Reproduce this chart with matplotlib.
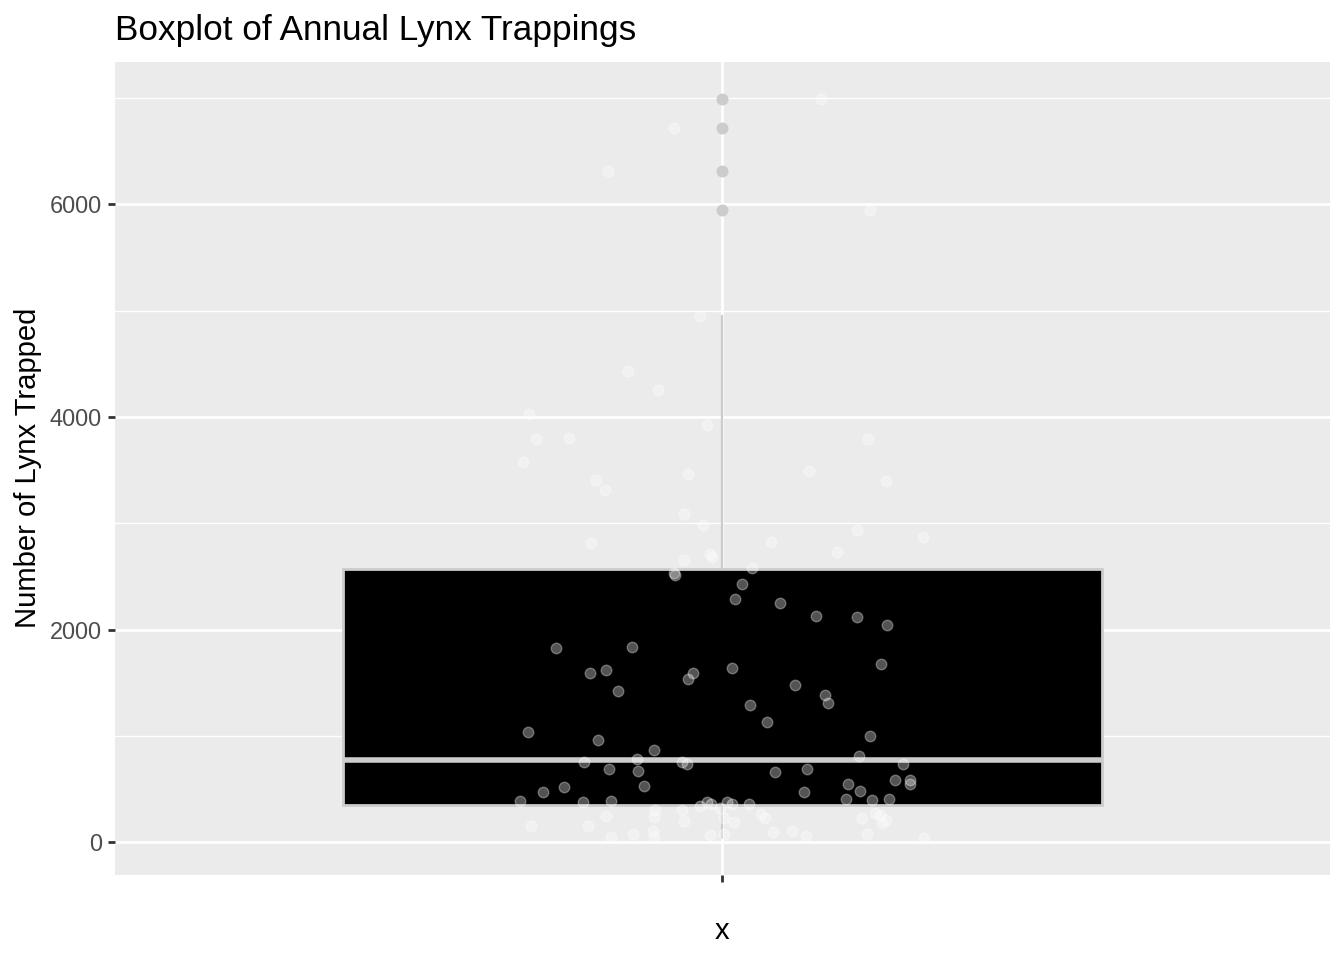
import numpy as np
import matplotlib
matplotlib.use("Agg")
import matplotlib.pyplot as plt
from matplotlib.ticker import MultipleLocator

plt.rcParams["font.family"] = ["Liberation Sans", "DejaVu Sans"]

# annual lynx trappings, 1821-1934
years = list(range(1821, 1935))
trapped = [269, 321, 585, 871, 1475, 2821, 3928, 5943, 4950, 2577,
           523, 98, 184, 279, 409, 2285, 2685, 3409, 1824, 409,
           151, 45, 68, 213, 546, 1033, 2129, 2536, 957, 361,
           377, 225, 360, 731, 1638, 2725, 2871, 2119, 684, 299,
           236, 245, 552, 1623, 3311, 6721, 4254, 687, 255, 473,
           358, 784, 1594, 1676, 2251, 1426, 756, 299, 201, 229,
           469, 736, 2042, 2811, 4431, 2511, 389, 73, 39, 49,
           59, 188, 377, 1292, 4031, 3495, 587, 105, 153, 387,
           758, 1307, 3465, 6991, 6313, 3794, 1836, 345, 382, 808,
           1388, 2713, 3800, 3091, 2985, 3790, 674, 81, 80, 108,
           229, 399, 1132, 2432, 3574, 2935, 1537, 529, 485, 662,
           1000, 1590, 2657, 3396]

# horizontal jitter of each point (category units)
jitter = [0.038, -0.002, 0.185, -0.068, 0.072, 0.048, -0.015, 0.146, -0.022, 0.029,
          -0.157, 0.050, 0.158, 0.151, 0.122, 0.012, -0.010, -0.125, -0.164, 0.164,
          -0.133, -0.110, -0.012, 0.161, 0.124, -0.192, 0.092, -0.048, -0.123, -0.011,
          -0.015, 0.138, 0.009, -0.035, 0.009, 0.113, 0.198, 0.133, -0.112, -0.067,
          -0.068, -0.115, 0.185, -0.115, -0.116, -0.048, -0.064, 0.083, 0.156, 0.080,
          0.026, -0.084, -0.029, 0.157, 0.057, -0.103, -0.040, -0.040, -0.038, 0.001,
          -0.177, 0.178, 0.162, -0.130, -0.093, -0.047, -0.200, 0.143, 0.199, -0.068,
          0.082, 0.011, 0.004, 0.027, -0.191, 0.085, 0.170, 0.069, -0.189, -0.110,
          -0.137, 0.104, -0.034, 0.097, -0.113, 0.144, -0.089, -0.022, -0.138, 0.135,
          0.101, -0.012, -0.152, -0.038, -0.019, -0.184, -0.083, -0.088, 0.001, -0.069,
          0.042, 0.148, 0.044, 0.019, -0.197, 0.133, -0.034, -0.078, 0.136, 0.052,
          0.146, -0.131, -0.038, 0.161]

category = "x"


def main():
    values = np.array(trapped, dtype=float)
    fig = plt.figure(figsize=(13.44, 9.6), dpi=100)
    ax = fig.add_axes([115 / 1344, 1 - 875 / 960, 1215 / 1344, 813 / 960])
    ax.set_facecolor("#EBEBEB")
    for s in ax.spines.values():
        s.set_visible(False)

    ax.set_axisbelow(True)
    ax.yaxis.set_major_locator(MultipleLocator(2000))
    ax.yaxis.set_minor_locator(MultipleLocator(1000))
    ax.grid(which="major", color="white", linewidth=2.0)
    ax.grid(which="minor", axis="y", color="white", linewidth=1.0)

    grey = "#CCCCCC"
    ax.boxplot(values, positions=[1], widths=0.75, patch_artist=True,
               whis=1.5, manage_ticks=False,
               boxprops=dict(facecolor="black", edgecolor=grey, linewidth=2.0),
               medianprops=dict(color=grey, linewidth=4.0, solid_capstyle="butt"),
               whiskerprops=dict(color=grey, linewidth=1.6),
               capprops=dict(linewidth=0),
               flierprops=dict(marker="o", markerfacecolor=grey,
                               markeredgecolor=grey, markersize=7.6,
                               markeredgewidth=1.0), zorder=2)

    xs = 1 + np.array(jitter)
    ax.plot(xs, values, "o", linestyle="none", color="white", alpha=0.33,
            markersize=7.6, markeredgewidth=1.0, zorder=3)

    rng = values.max() - values.min()
    ax.set_ylim(values.min() - 0.05 * rng, values.max() + 0.05 * rng)
    ax.set_xlim(0.4, 1.6)
    ax.set_xticks([1])
    ax.set_xticklabels([""])
    ax.tick_params(axis="both", which="major", length=5.3, width=2.0,
                   color="#333333", labelcolor="#4D4D4D", labelsize=16.9, pad=4)
    ax.tick_params(axis="y", which="minor", length=0)

    fig.text(115 / 1344, 1 - 40 / 960, "Boxplot of Annual Lynx Trappings",
             fontsize=25.3, ha="left", va="baseline", color="black")
    fig.text(28 / 1344, 1 - 468 / 960, "Number of Lynx Trapped",
             fontsize=21.1, rotation=90, ha="center", va="center")
    fig.text(722 / 1344, 1 - 931 / 960, category, fontsize=21.1,
             ha="center", va="center")

    fig.savefig("out.png", dpi=100)


if __name__ == "__main__":
    main()
